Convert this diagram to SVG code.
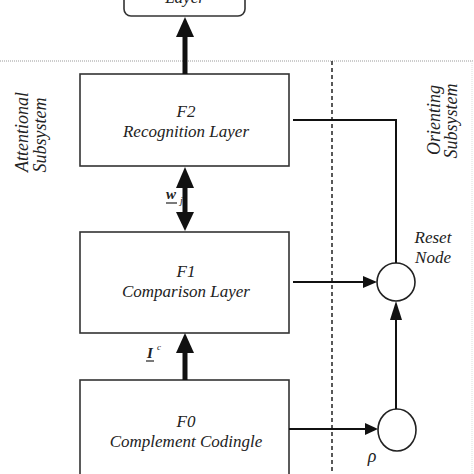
<svg xmlns="http://www.w3.org/2000/svg" width="474" height="474" viewBox="0 0 474 474">
<style>
.box{fill:#fff;stroke:#333;stroke-width:1.6}
.t{font-family:"Liberation Serif",serif;font-style:italic;font-size:17px;fill:#222;text-anchor:middle}
.ln{stroke:#111;stroke-width:2;fill:none}
.thick{stroke:#111;stroke-width:5;fill:none}
.head{fill:#111}
</style>
<rect width="474" height="474" fill="#fff"/>
<g id="borders">
<line x1="0" y1="61" x2="474" y2="61" stroke="#999" stroke-width="1" stroke-dasharray="1,1"/>
<line x1="472" y1="61" x2="472" y2="474" stroke="#ddd" stroke-width="1" stroke-dasharray="1,1"/>
<line x1="332" y1="61" x2="332" y2="474" stroke="#222" stroke-width="1.5" stroke-dasharray="4,3"/>
</g>
<g id="labels">
<text class="t" transform="translate(28,132) rotate(-90)" style="font-size:18px">Attentional</text>
<text class="t" transform="translate(46,135) rotate(-90)" style="font-size:18px">Subsystem</text>
<text class="t" transform="translate(440,120) rotate(-90)" style="font-size:18px">Orienting</text>
<text class="t" transform="translate(457,121) rotate(-90)" style="font-size:18px">Subsystem</text>
</g>
<g id="node-top">
<rect class="box" x="124" y="-10" width="121" height="26" rx="7"/>
<text class="t" x="185" y="3">Layer</text>
</g>
<g id="node-f2">
<rect class="box" x="80" y="74" width="209" height="92"/>
<text class="t" x="186" y="117">F2</text>
<text class="t" x="186" y="137">Recognition Layer</text>
</g>
<g id="node-f1">
<rect class="box" x="80" y="232" width="209" height="101"/>
<text class="t" x="186" y="277">F1</text>
<text class="t" x="186" y="297">Comparison Layer</text>
</g>
<g id="node-f0">
<rect class="box" x="80" y="380" width="209" height="100"/>
<text class="t" x="186" y="427">F0</text>
<text class="t" x="186" y="447">Complement Codingle</text>
</g>
<g id="node-reset">
<circle cx="396" cy="282" r="19" fill="#fff" stroke="#222" stroke-width="1.6"/>
<text class="t" x="433" y="243">Reset</text>
<text class="t" x="433" y="263">Node</text>
</g>
<g id="node-rho">
<ellipse cx="397" cy="430" rx="19" ry="21" fill="#fff" stroke="#222" stroke-width="1.6"/>
<text class="t" x="372" y="462" style="font-size:18px">ρ</text>
</g>
<g id="connectors">
<line class="thick" x1="185" y1="74" x2="185" y2="35"/>
<polygon class="head" points="185,17 176,37 194,37"/>
<line class="thick" x1="185" y1="186" x2="185" y2="214"/>
<polygon class="head" points="185,167 176,188 194,188"/>
<polygon class="head" points="185,231 176,212 194,212"/>
<line class="thick" x1="185" y1="380" x2="185" y2="350"/>
<polygon class="head" points="185,333 176,353 194,353"/>
<polyline class="ln" points="293,120 396,120 396,263"/>
<line class="ln" x1="293" y1="282" x2="364" y2="282"/>
<polygon class="head" points="377,282 363,276 363,288"/>
<line class="ln" x1="289" y1="429" x2="366" y2="429"/>
<polygon class="head" points="378,429 365,423 365,435"/>
<line class="ln" x1="396" y1="409" x2="396" y2="318"/>
<polygon class="head" points="396,301 390,320 402,320"/>
</g>
<g id="edge-labels" font-family="Liberation Serif,serif" font-style="italic" fill="#222">
<text x="166" y="199" font-size="15" font-weight="bold">w</text>
<line x1="166" y1="203" x2="177" y2="203" stroke="#222" stroke-width="1.2"/>
<text x="180" y="204" font-size="10">j</text>
<text x="147" y="358" font-size="15" font-weight="bold">I</text>
<line x1="146" y1="361" x2="154" y2="361" stroke="#222" stroke-width="1.2"/>
<text x="157" y="350" font-size="9">c</text>
</g>
</svg>
